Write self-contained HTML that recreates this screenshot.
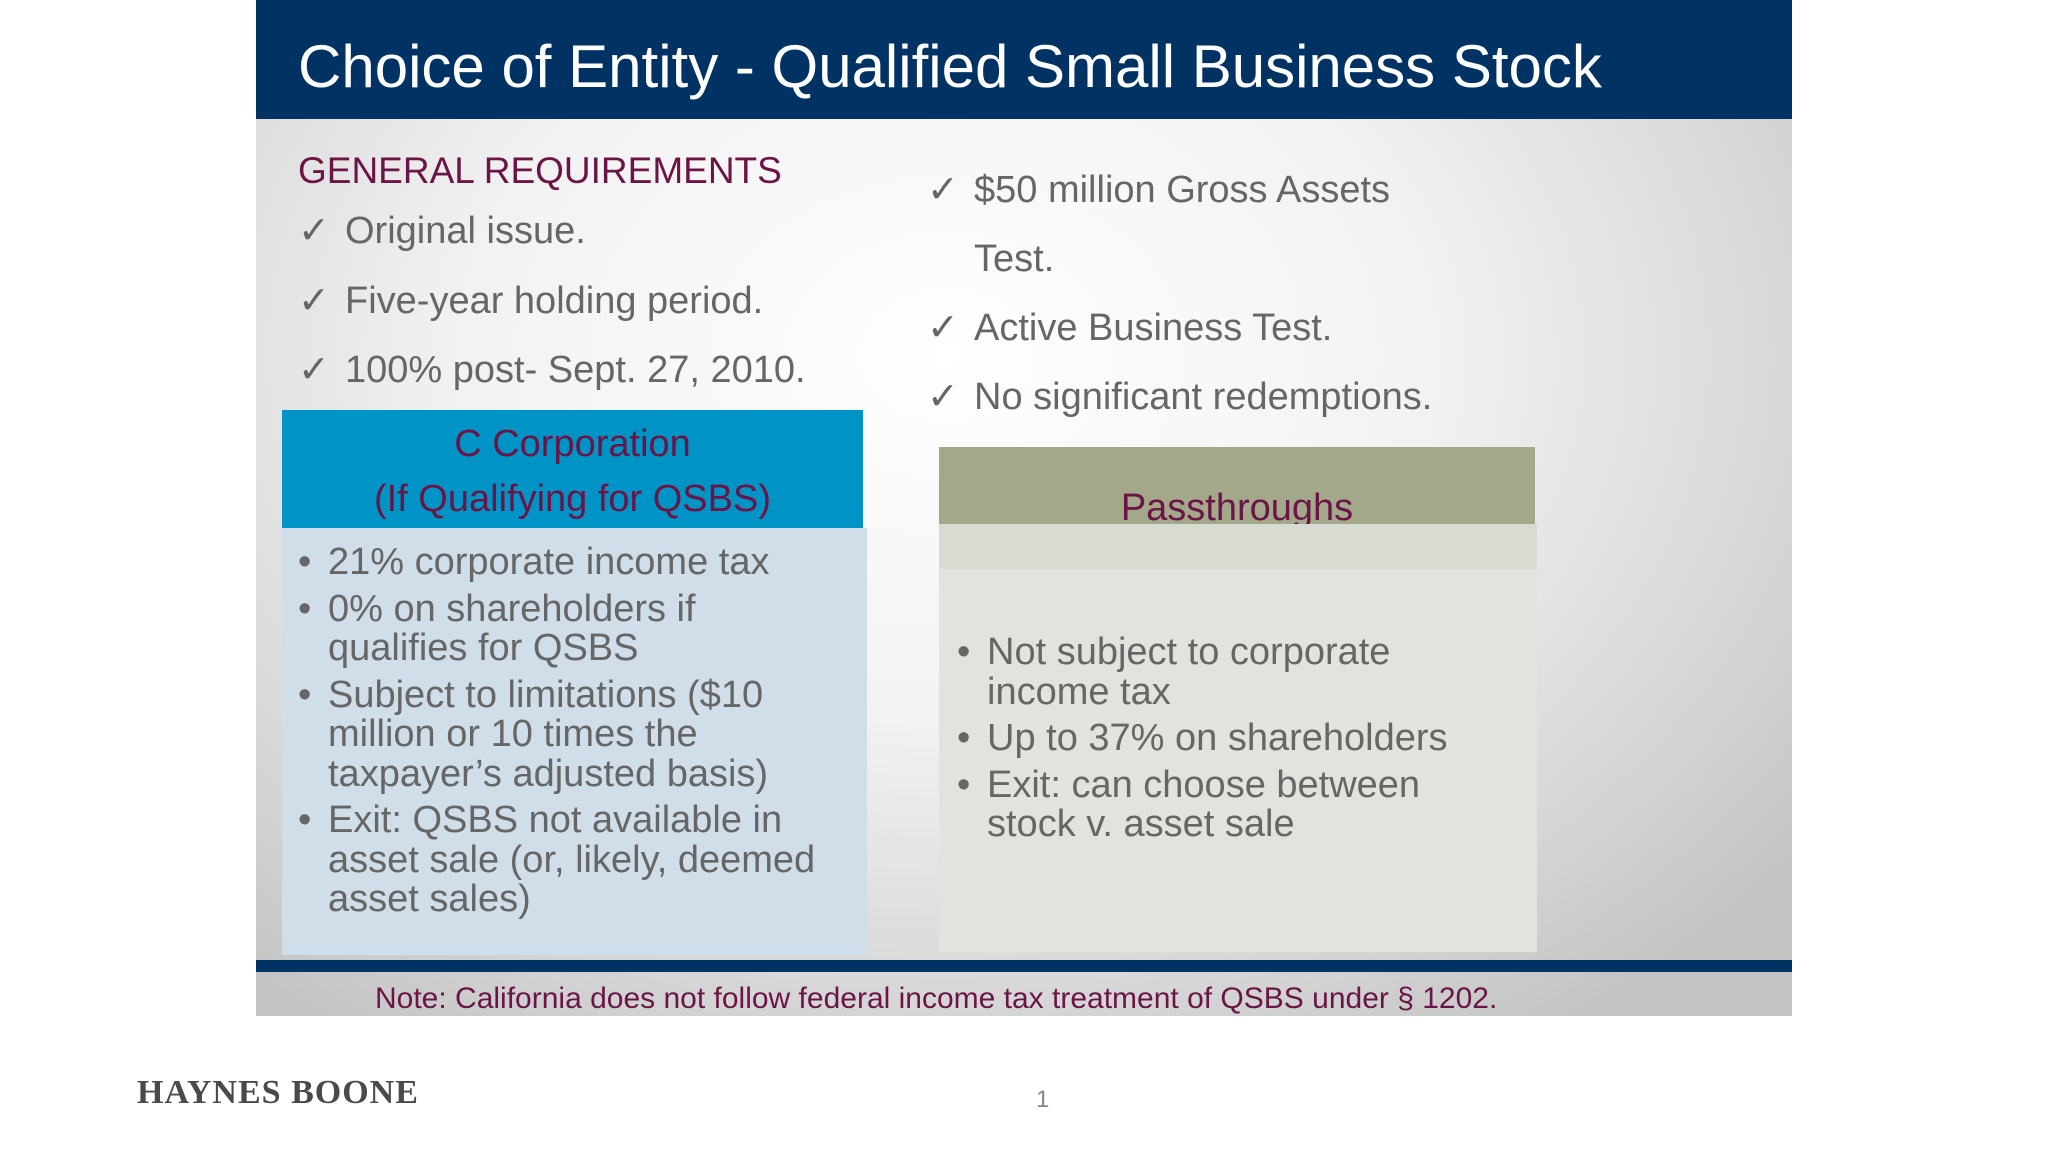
<!DOCTYPE html>
<html><head><meta charset="utf-8"><style>
body{margin:0;width:2048px;height:1152px;background:#fff;position:relative;overflow:hidden;font-family:"Liberation Sans",sans-serif}
.a{position:absolute;white-space:nowrap}
#slide{position:absolute;left:256px;top:0;width:1536px;height:1016px;background:radial-gradient(ellipse 70% 80% at 45% 35%,#ffffff 0%,#f2f2f2 45%,#d6d6d6 80%,#c4c4c4 100%)}
.t{font-size:38px;color:#666;line-height:39.5px}
.bul{position:absolute;white-space:nowrap;font-size:38px;color:#666;line-height:39.5px}
.ck{display:inline-block;width:47px}
.bd{display:inline-block;width:30px}
</style></head><body>
<div id="slide"></div>
<div class="a" style="left:256px;top:0;width:1536px;height:119px;background:#003263"></div>
<div class="a" style="left:298px;top:32px;font-size:60px;color:#fff">Choice of Entity - Qualified Small Business Stock</div>
<div class="a" style="left:298px;top:150px;font-size:37px;color:#6b1546">GENERAL REQUIREMENTS</div>
<div class="a t" style="left:298px;top:212px"><span class="ck">✓</span>Original issue.</div>
<div class="a t" style="left:298px;top:282px"><span class="ck">✓</span>Five-year holding period.</div>
<div class="a t" style="left:298px;top:351px"><span class="ck">✓</span>100% post- Sept. 27, 2010.</div>
<div class="a t" style="left:927px;top:171px"><span class="ck">✓</span>$50 million Gross Assets</div>
<div class="a t" style="left:974px;top:240px">Test.</div>
<div class="a t" style="left:927px;top:309px"><span class="ck">✓</span>Active Business Test.</div>
<div class="a t" style="left:927px;top:378px"><span class="ck">✓</span>No significant redemptions.</div>

<div class="a" style="left:282px;top:410px;width:581px;height:118px;background:#0094c6;color:#6b1546;font-size:38px;text-align:center">
<div style="position:absolute;top:13px;width:100%">C Corporation</div><div style="position:absolute;top:68px;width:100%">(If Qualifying for QSBS)</div></div>
<div class="a" style="left:282px;top:528px;width:585px;height:427px;background:#d0dee9"></div>
<div class="bul" style="left:298px;top:543px">
<div><span class="bd">•</span>21% corporate income tax</div>
<div style="margin-top:7px"><span class="bd">•</span>0% on shareholders if</div>
<div style="padding-left:30px">qualifies for QSBS</div>
<div style="margin-top:7px"><span class="bd">•</span>Subject to limitations ($10</div>
<div style="padding-left:30px">million or 10 times the</div>
<div style="padding-left:30px">taxpayer’s adjusted basis)</div>
<div style="margin-top:7px"><span class="bd">•</span>Exit: QSBS not available in</div>
<div style="padding-left:30px">asset sale (or, likely, deemed</div>
<div style="padding-left:30px">asset sales)</div>
</div>

<div class="a" style="left:939px;top:447px;width:596px;height:77px;background:#a3a88a"></div>
<div class="a" style="left:939px;top:487px;width:596px;text-align:center;font-size:38px;color:#6b1546;height:37px;overflow:hidden">Passthroughs</div>
<div class="a" style="left:939px;top:524px;width:598px;height:45px;background:#d8dbd2"></div>
<div class="a" style="left:939px;top:569px;width:598px;height:383px;background:#e3e3dd"></div>
<div class="bul" style="left:957px;top:633px">
<div><span class="bd">•</span>Not subject to corporate</div>
<div style="padding-left:30px">income tax</div>
<div style="margin-top:7px"><span class="bd">•</span>Up to 37% on shareholders</div>
<div style="margin-top:7px"><span class="bd">•</span>Exit: can choose between</div>
<div style="padding-left:30px">stock v. asset sale</div>
</div>

<div class="a" style="left:256px;top:960px;width:1536px;height:12px;background:#003263"></div>
<div class="a" style="left:375px;top:982px;font-size:30px;color:#6b1546">Note: California does not follow federal income tax treatment of QSBS under § 1202.</div>
<div class="a" style="left:137px;top:1074px;font-family:'Liberation Serif',serif;font-weight:bold;font-size:34px;color:#4a4a4a;letter-spacing:1px">HAYNES BOONE</div>
<div class="a" style="left:1036px;top:1086px;font-size:24px;color:#888">1</div>
</body></html>
